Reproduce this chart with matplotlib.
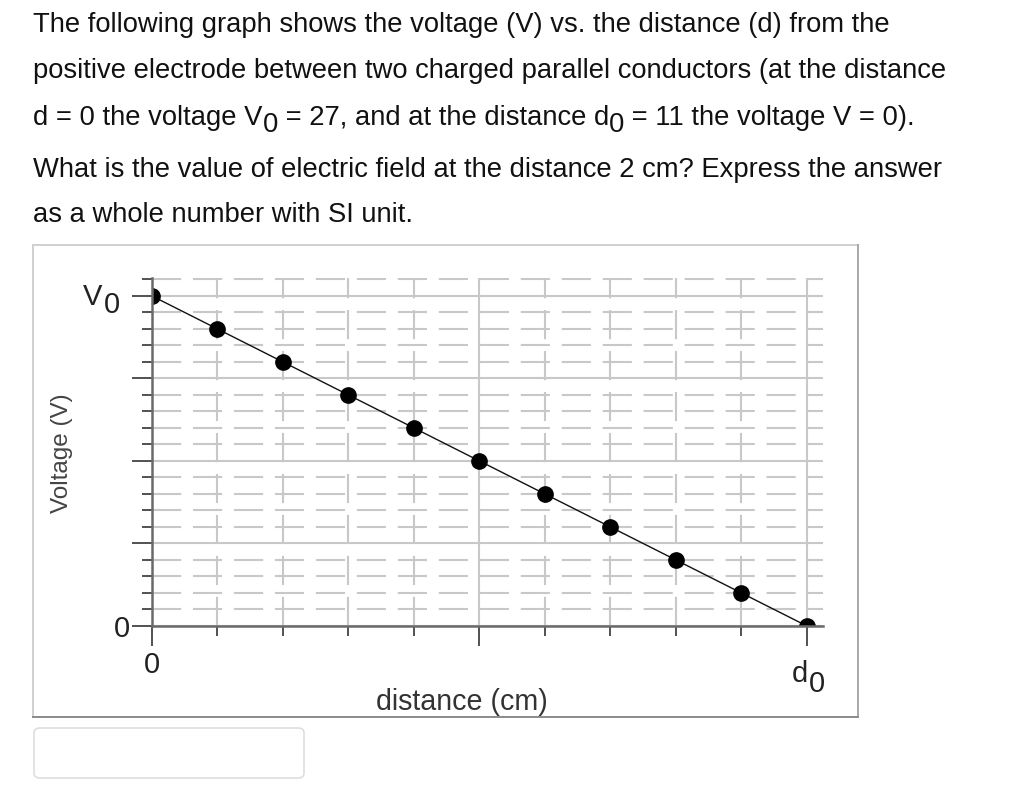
import matplotlib
matplotlib.use("Agg")
import matplotlib.pyplot as plt
from matplotlib.lines import Line2D
from matplotlib.patches import FancyBboxPatch
from matplotlib.ticker import MultipleLocator

# data (d0 = 11 cm, V0 = 27 V)
distance = [0, 1.1, 2.2, 3.3, 4.4, 5.5, 6.6, 7.7, 8.8, 9.9, 11.0]
voltage = [27, 24.3, 21.6, 18.9, 16.2, 13.5, 10.8, 8.1, 5.4, 2.7, 0]
x_step, x_major = 1.1, 5.5
y_step, y_major = 1.35, 6.75

question = [
    [("The following graph shows the voltage (V) vs. the distance (d) from the", 0)],
    [("positive electrode between two charged parallel conductors (at the distance", 0)],
    [("d = 0 the voltage V", 0), ("0", 1), (" = 27, and at the distance d", 0), ("0", 1),
     (" = 11 the voltage V = 0).", 0)],
    [("What is the value of electric field at the distance 2 cm? Express the answer", 0)],
    [("as a whole number with SI unit.", 0)],
]
baselines = [32, 78, 125, 177, 222]

plt.rcParams['font.family'] = ['Liberation Sans', 'DejaVu Sans']
plt.rcParams['lines.scale_dashes'] = False

W, H = 1024, 791
fig = plt.figure(figsize=(W / 100, H / 100), dpi=100)
fig.patch.set_facecolor('white')
renderer = fig.canvas.get_renderer()


def px(x, y):
    return x / W, 1 - y / H


def draw_runs(x, y, runs, size=19.7, drop=7, color='#111111'):
    """ writes a line made of runs, lowered runs act as subscripts """
    for txt, sub in runs:
        t = fig.text(*px(x, y + (drop if sub else 0)), txt, fontsize=size,
                     ha='left', va='baseline', color=color)
        x += t.get_window_extent(renderer=renderer).width


for runs, yb in zip(question, baselines):
    draw_runs(33, yb, runs)

# chart frame and answer box
for (x0, y0, x1, y1), c in [((33, 245, 858, 245), '#d0d0d0'), ((33, 245, 33, 717), '#d0d0d0'),
                            ((858, 245, 858, 717), '#a8a8a8'), ((33, 717, 858, 717), '#8a8a8a')]:
    fig.add_artist(Line2D([x0 / W, x1 / W], [1 - y0 / H, 1 - y1 / H], color=c, lw=1.4,
                          transform=fig.transFigure))
fig.add_artist(FancyBboxPatch((34 / W, 1 - 778 / H), 270 / W, 50 / H,
                              boxstyle="round,pad=0,rounding_size=0.006",
                              transform=fig.transFigure, fill=False,
                              edgecolor='#dedede', lw=1.2))

ax = fig.add_axes([152 / W, 1 - 626 / H, 671 / W, 348 / H])
ax.set_xlim(0, 11.27)
ax.set_ylim(0, 28.47)

ax.xaxis.set_major_locator(MultipleLocator(x_major))
ax.xaxis.set_minor_locator(MultipleLocator(x_step))
ax.yaxis.set_major_locator(MultipleLocator(y_major))
ax.yaxis.set_minor_locator(MultipleLocator(y_step))

ax.set_axisbelow(True)
ax.grid(which='major', color='#c8c8c8', lw=1.5)
ax.grid(which='minor', color='#c8c8c8', lw=1.5, linestyle=(0, (21, 8.5)))

for s in ['top', 'right']:
    ax.spines[s].set_visible(False)
for s in ['left', 'bottom']:
    ax.spines[s].set_color('#6a6a6a')
    ax.spines[s].set_linewidth(1.8)
    ax.spines[s].set_zorder(4)

ax.tick_params(which='both', direction='out', color='#333333', width=1.2,
               labelleft=False, labelbottom=False)
ax.tick_params(which='major', length=14.4)
ax.tick_params(which='minor', length=7.2)

ax.plot(distance, voltage, color='#111111', lw=1.0, marker='o', ms=11,
        mfc='black', mec='black', zorder=3)

# tick labels
lab = dict(fontsize=21, color='#222222', va='baseline', textcoords='offset pixels',
           annotation_clip=False)
ax.annotate('V', (0, voltage[0]), xytext=(-50, -9), ha='right', **lab)
ax.annotate('0', (0, voltage[0]), xytext=(-48, -17), ha='left', **lab)
ax.annotate('0', (0, 0), xytext=(-22, -11), ha='right', **lab)
ax.annotate('0', (distance[0], 0), xytext=(0, -47), ha='center', **lab)
ax.annotate('d', (distance[-1], 0), xytext=(1, -56), ha='right', **lab)
ax.annotate('0', (distance[-1], 0), xytext=(2, -66), ha='left', **lab)

fig.text(*px(462, 710), 'distance (cm)', fontsize=20.6, color='#333333',
         ha='center', va='baseline')
fig.text(*px(62, 453), 'Voltage (V)', fontsize=17.5, color='#444444',
         ha='center', va='center', rotation=90)

fig.savefig('out.png', dpi=100, facecolor='white')
